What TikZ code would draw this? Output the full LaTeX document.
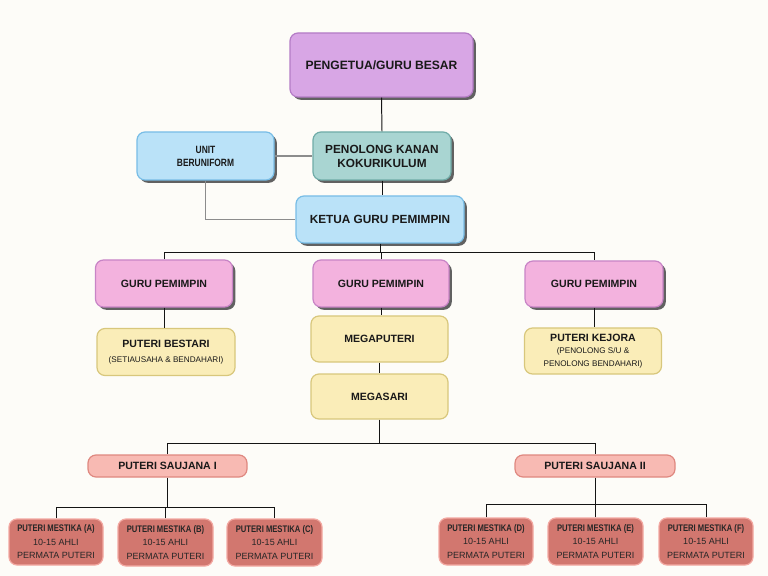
\documentclass[tikz,border=0pt]{standalone}
\usepackage{fontspec}
\setmainfont{Liberation Sans}
\newfontfamily\condfont[FakeStretch=0.8]{Liberation Sans}
\usepackage{tikz}
\usetikzlibrary{shadows}
\definecolor{bgcream}{HTML}{FDFCF8}
\definecolor{headfill}{HTML}{D8A6E5}
\definecolor{headline}{HTML}{B47CC6}
\definecolor{bluefill}{HTML}{BAE2F8}
\definecolor{blueline}{HTML}{78BDE6}
\definecolor{tealfill}{HTML}{A9D5D2}
\definecolor{tealline}{HTML}{70ACA8}
\definecolor{pinkfill}{HTML}{F3B2DE}
\definecolor{pinkline}{HTML}{C884C6}
\definecolor{yelfill}{HTML}{FAEDB8}
\definecolor{yelline}{HTML}{D8C77C}
\definecolor{rosefill}{HTML}{F8BAB3}
\definecolor{roseline}{HTML}{DF8880}
\definecolor{redfill}{HTML}{D2776F}
\definecolor{redline}{HTML}{F3A9A2}
\tikzset{
  boxsize/.style 2 args={minimum width=#1*0.025cm,minimum height=#2*0.025cm},
  orgbox/.style={draw,rounded corners=2mm,line width=0.85pt,align=center,inner sep=1pt,
    text=black!90,font=\bfseries\fontsize{7.5}{9}\selectfont},
  shadowbox/.style={orgbox,drop shadow={shadow xshift=2pt,shadow yshift=-2pt,fill=black!62,opacity=1}},
  headbox/.style={shadowbox,fill=headfill,draw=headline,font=\bfseries\fontsize{8.6}{10}\selectfont},
  bluebox/.style={shadowbox,fill=bluefill,draw=blueline,font=\bfseries\fontsize{8.4}{10}\selectfont},
  tealbox/.style={shadowbox,fill=tealfill,draw=tealline,font=\bfseries\fontsize{8.4}{10}\selectfont},
  pinkbox/.style={shadowbox,fill=pinkfill,draw=pinkline},
  yelbox/.style={orgbox,fill=yelfill,draw=yelline},
  rosebox/.style={orgbox,fill=rosefill,draw=roseline},
  redbox/.style={orgbox,fill=redfill,draw=redline,text=black!85,font=\fontsize{6.4}{9.6}\selectfont},
  conn/.style={black!92,line width=0.7pt},
  unitlink/.style={black!45,line width=1pt},
}
\newcommand{\mestika}[1]{{\condfont\bfseries\fontsize{6.8}{9.6}\selectfont PUTERI MESTIKA (#1)}\\10-15 AHLI\\PERMATA PUTERI}

\begin{document}
\begin{tikzpicture}[x=0.025cm,y=-0.025cm]
  \fill[bgcream] (0,0) rectangle (768,576);
  \useasboundingbox (0,0) rectangle (768,576);
  % top of the chart
  \node[headbox,boxsize={183}{64}] (pengetua) at (381.5,65) {PENGETUA/GURU BESAR};
  \node[bluebox,boxsize={137}{48},font=\condfont\bfseries\fontsize{7.5}{9.2}\selectfont] (unit) at (205.5,156) {UNIT\\BERUNIFORM};
  \node[tealbox,boxsize={138}{48}] (penolong) at (382,156) {PENOLONG KANAN\\KOKURIKULUM};
  \node[bluebox,boxsize={168}{47}] (ketua) at (380,219.5) {KETUA GURU PEMIMPIN};
  % guru pemimpin
  \node[pinkbox,boxsize={137}{47}] (gp1) at (164,283.5) {GURU PEMIMPIN};
  \node[pinkbox,boxsize={136}{47}] (gp2) at (381,283.5) {GURU PEMIMPIN};
  \node[pinkbox,boxsize={138}{46}] (gp3) at (594,284) {GURU PEMIMPIN};
  % units below them
  \node[yelbox,boxsize={138}{47},font=\bfseries\fontsize{7.5}{10.6}\selectfont] (bestari) at (166,352)
    {PUTERI BESTARI\\{\mdseries\fontsize{5.8}{8}\selectfont(SETIAUSAHA \& BENDAHARI)}};
  \node[yelbox,boxsize={137}{46}] (megaputeri) at (379.5,339) {MEGAPUTERI};
  \node[yelbox,boxsize={137}{45}] (megasari) at (379.5,396.5) {MEGASARI};
  \node[yelbox,boxsize={137}{46},font=\bfseries\fontsize{7.5}{8.9}\selectfont] (kejora) at (593,351)
    {PUTERI KEJORA\\{\mdseries\fontsize{5.8}{8.9}\selectfont(PENOLONG S/U \&}\\{\mdseries\fontsize{5.8}{8.9}\selectfont PENOLONG BENDAHARI)}};
  % saujana and mestika
  \node[rosebox,boxsize={159}{22}] (saujana1) at (167.5,466) {PUTERI SAUJANA I};
  \node[rosebox,boxsize={160}{22}] (saujana2) at (595,466) {PUTERI SAUJANA II};
  \node[redbox,boxsize={94}{46}] (mestA) at (56,542) {\mestika{A}};
  \node[redbox,boxsize={95}{47}] (mestB) at (165.5,542.5) {\mestika{B}};
  \node[redbox,boxsize={95}{47}] (mestC) at (274.5,542.5) {\mestika{C}};
  \node[redbox,boxsize={94}{47}] (mestD) at (486,541.5) {\mestika{D}};
  \node[redbox,boxsize={95}{47}] (mestE) at (595.5,541.5) {\mestika{E}};
  \node[redbox,boxsize={94}{47}] (mestF) at (706,541.5) {\mestika{F}};
  % connectors
  \draw[conn] (pengetua.south) -- (penolong.north);
  \draw[conn] (penolong.south) -- (penolong.south |- ketua.north);
  \draw[unitlink] (unit.east) -- (penolong.west);
  \draw[unitlink] (unit.south) |- (ketua.west);
  \draw[conn] (ketua.south) -- ++(0,9) coordinate (busgp);
  \draw[conn] (gp1.north) |- (busgp) -| (gp3.north);
  \draw[conn] (gp2.north) -- (gp2.north |- busgp);
  \draw[conn] (gp1.south) -- (gp1.south |- bestari.north);
  \draw[conn] (gp2.south) -- (gp2.south |- megaputeri.north);
  \draw[conn] (megaputeri.south) -- (megasari.north);
  \draw[conn] (gp3.south) -- (gp3.south |- kejora.north);
  \draw[conn] (megasari.south) -- ++(0,24) coordinate (bussj);
  \draw[conn] (saujana1.north) |- (bussj) -| (saujana2.north);
  \draw[conn] (saujana1.south) -- ++(0,30) coordinate (busa);
  \draw[conn] (mestA.north) |- (busa) -| (mestC.north);
  \draw[conn] (mestB.north) -- (mestB.north |- busa);
  \draw[conn] (saujana2.south) -- ++(0,27) coordinate (busd);
  \draw[conn] (mestD.north) |- (busd) -| (mestF.north);
  \draw[conn] (mestE.north) -- (mestE.north |- busd);
\end{tikzpicture}
\end{document}
